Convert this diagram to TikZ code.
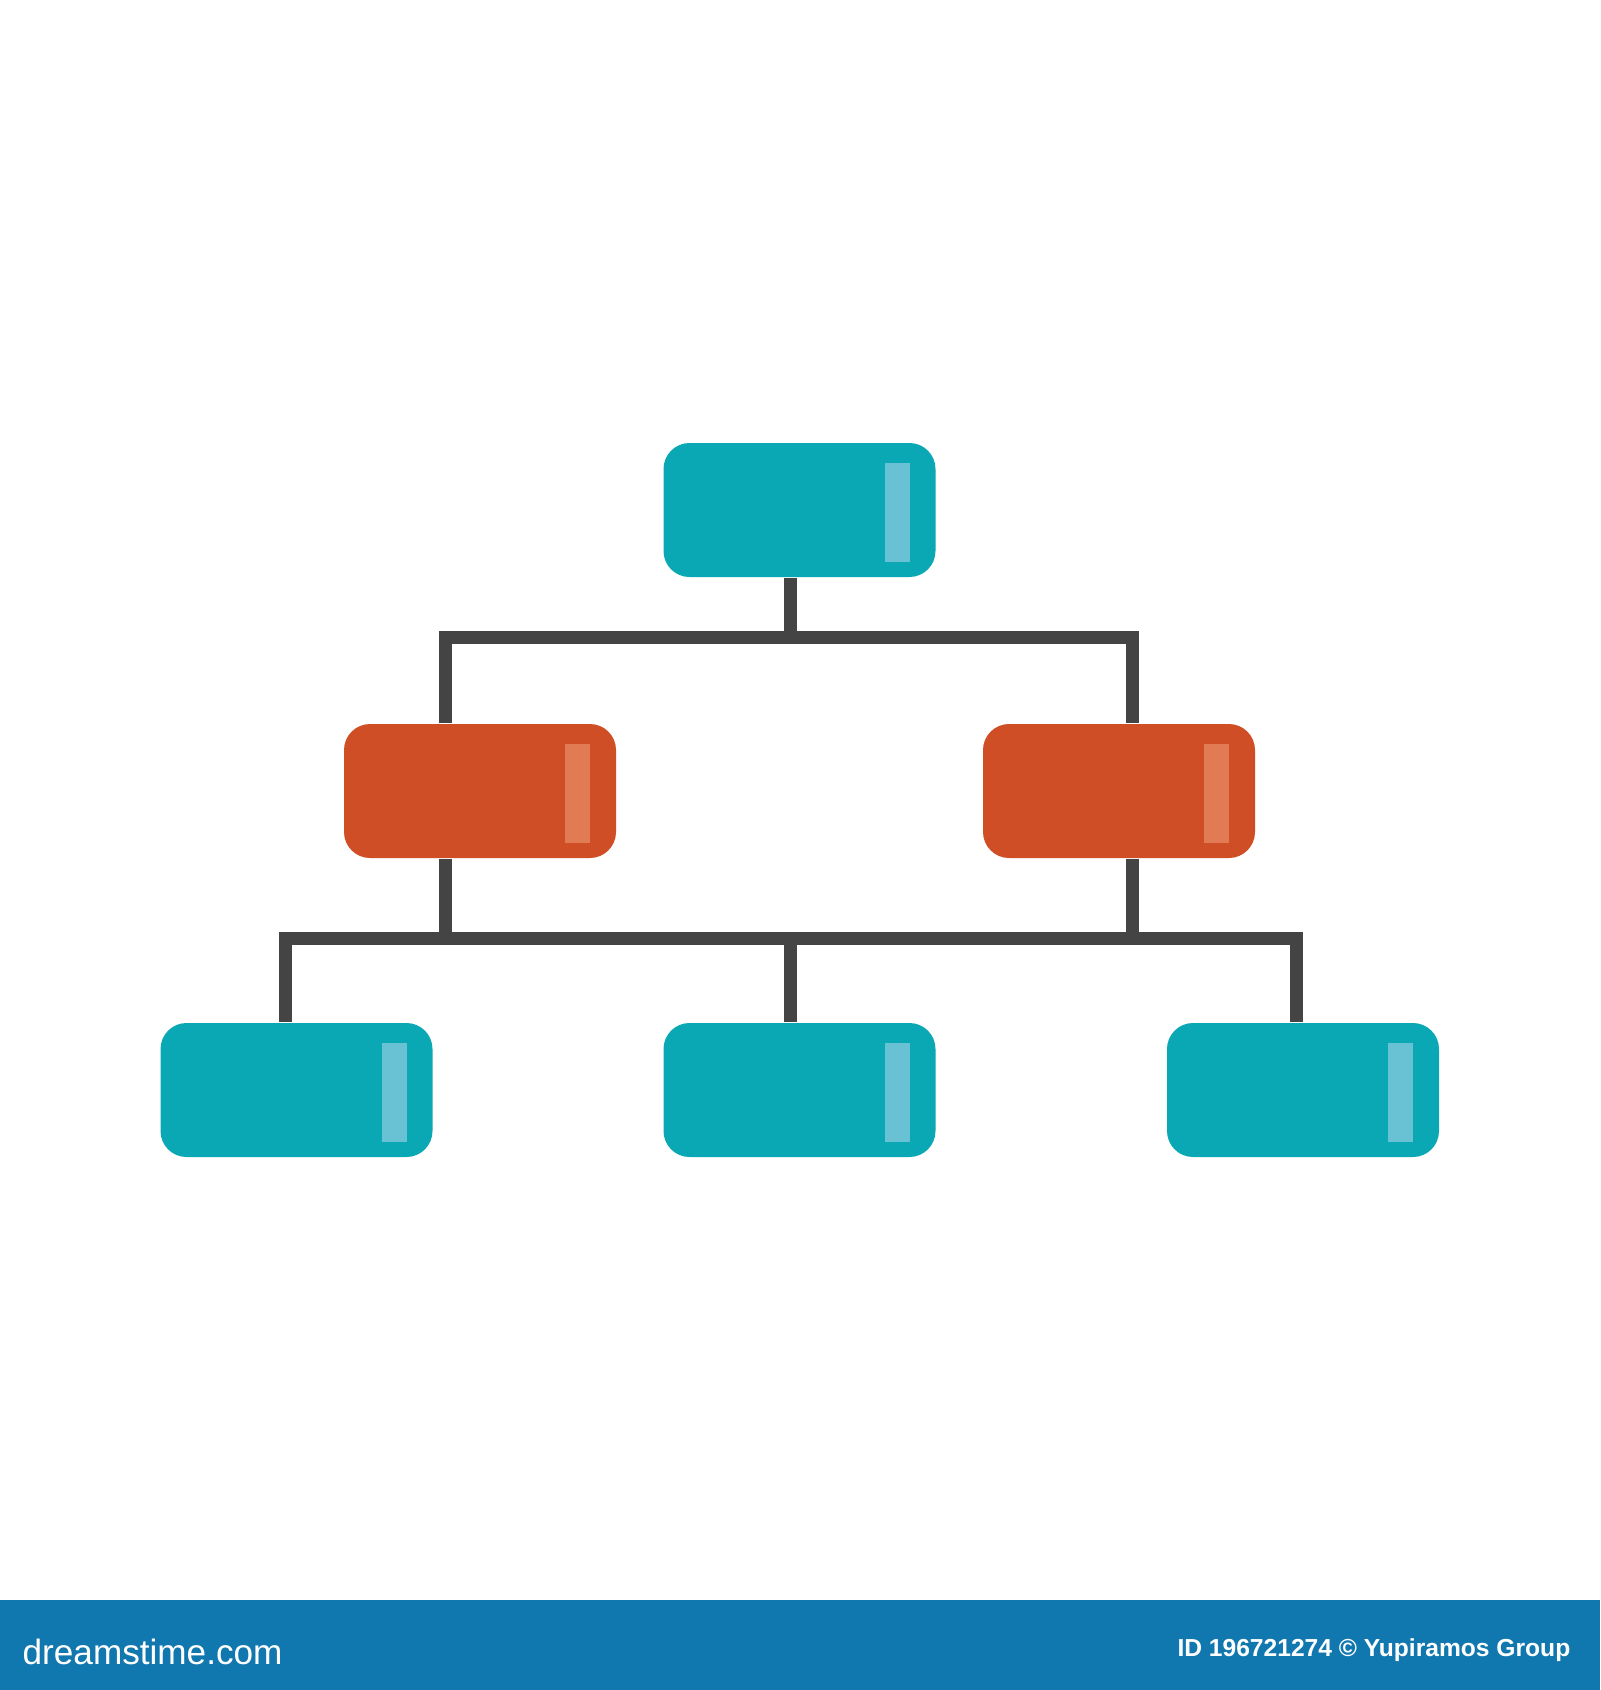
\documentclass[tikz,border=0pt]{standalone}
\usepackage{fontspec}
\setmainfont{Liberation Sans}
\usepackage{xcolor}
\definecolor{tealfill}{RGB}{9,168,180}
\definecolor{tealstripe}{RGB}{104,194,211}
\definecolor{rustfill}{RGB}{207,78,37}
\definecolor{ruststripe}{RGB}{224,123,84}
\definecolor{wiregray}{RGB}{68,68,68}
\definecolor{bannerblue}{RGB}{17,119,175}

\begin{document}
\begin{tikzpicture}[
  x=0.1mm, y=-0.1mm,
  orgbox/.style={rectangle, rounded corners=2.6mm, minimum width=27.2mm, minimum height=13.4mm, inner sep=0pt},
  cyanbox/.style={orgbox, fill=tealfill, path picture={\fill[tealstripe, sharp corners] ([shift={(-5.1mm,-2mm)}]path picture bounding box.north east) rectangle ([shift={(-2.6mm,1.5mm)}]path picture bounding box.south east);}},
  redbox/.style={orgbox, fill=rustfill, path picture={\fill[ruststripe, sharp corners] ([shift={(-5.1mm,-2mm)}]path picture bounding box.north east) rectangle ([shift={(-2.6mm,1.5mm)}]path picture bounding box.south east);}},
  wire/.style={draw=wiregray, line width=1.3mm, line join=miter}
]
\useasboundingbox (0,0) rectangle (1600,1690);

% boxes
\node[cyanbox] (top) at (799.5,510) {};
\node[redbox] (midL) at (480,791) {};
\node[redbox] (midR) at (1119,791) {};
\node[cyanbox] (botL) at (296.5,1090) {};
\node[cyanbox] (botM) at (799.5,1090) {};
\node[cyanbox] (botR) at (1303,1090) {};

\coordinate (busA) at (0,637);
\coordinate (busB) at (0,938);

% connectors
\draw[wire] ([xshift=-0.95mm]top.south) -- ([xshift=-0.95mm]top.south |- busA);
\draw[wire] ([xshift=-3.5mm]midL.north) -- ([xshift=-3.5mm]midL.north |- busA) -- ([xshift=1.3mm]midR.north |- busA) -- ([xshift=1.3mm]midR.north);
\draw[wire] ([xshift=-3.5mm]midL.south) -- ([xshift=-3.5mm]midL.south |- busB);
\draw[wire] ([xshift=1.3mm]midR.south) -- ([xshift=1.3mm]midR.south |- busB);
\draw[wire] ([xshift=-1.15mm]botL.north) -- ([xshift=-1.15mm]botL.north |- busB) -- ([xshift=-0.7mm]botR.north |- busB) -- ([xshift=-0.7mm]botR.north);
\draw[wire] ([xshift=-0.95mm]botM.north) -- ([xshift=-0.95mm]botM.north |- busB);

% banner
\fill[bannerblue] (0,1600) rectangle (1600,1690);
\node[anchor=base west, inner sep=0pt, text=white, font=\fontsize{10}{12}\selectfont] (logo) at (22,1664) {dreamstime.com};
\node[anchor=base east, inner sep=0pt, text=white, font=\bfseries\fontsize{7}{8}\selectfont] (credit) at (1571,1656) {ID 196721274 © Yupiramos Group};

\end{tikzpicture}
\end{document}
